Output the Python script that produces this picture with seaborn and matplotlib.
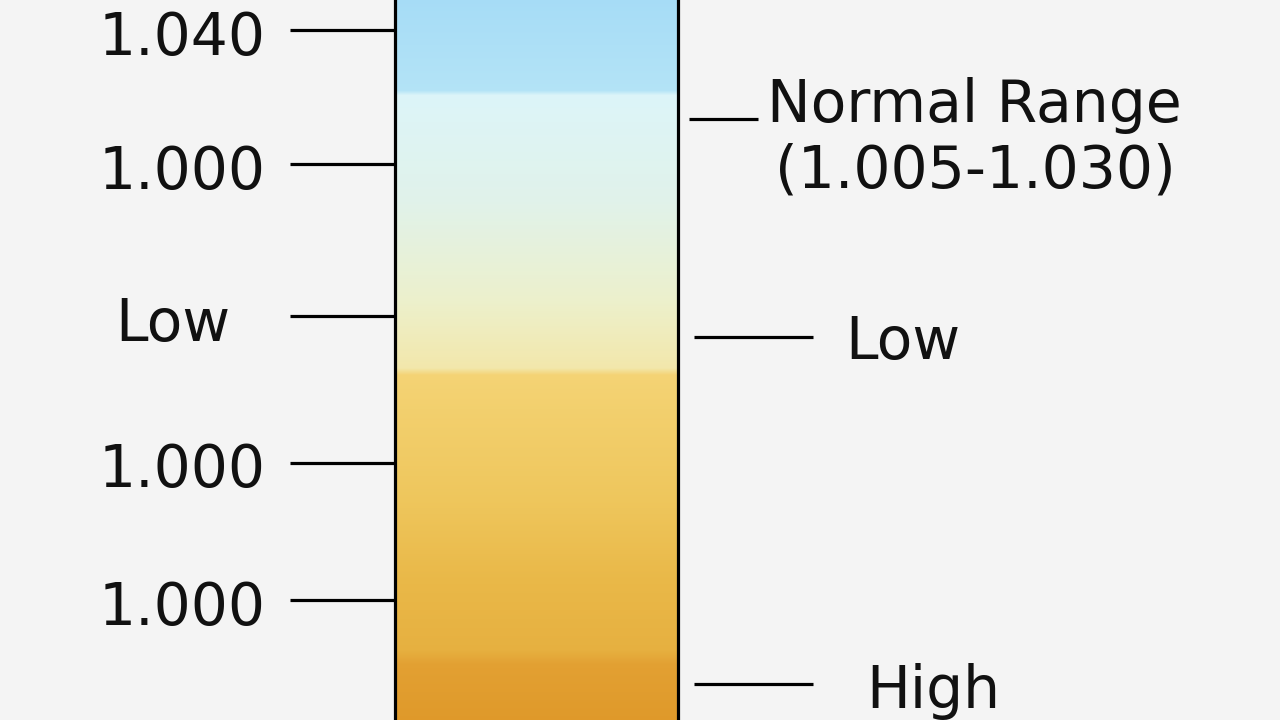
import numpy as np
import matplotlib
matplotlib.use("Agg")
import matplotlib.pyplot as plt
from matplotlib.colors import LinearSegmentedColormap
import seaborn as sns

sns.set_theme(style="white")
plt.rcParams['font.family'] = ['DejaVu Sans']

# scale labels on the left of the bar and the level (pixel row) of each
left_labels = ['1.040', '1.000', 'Low', '1.000', '1.000']
left_rows = [30, 164, 316, 463, 600]

# notes on the right
right_labels = ['Normal Range\n(1.005-1.030)', 'Low', 'High']
right_rows = [119, 337, 684]

# colour stops down the bar (row, colour)
stop_rows = [0, 90, 95, 200, 300, 368, 375, 500, 580, 650, 665, 720]
stop_colors = ['#a6dcf6', '#b3e3f6', '#dcf4f8', '#e0f2ea', '#ecf0cc', '#f2e7ab',
               '#f4d374', '#eec65c', '#e9b848', '#e6b040', '#e2a032', '#df992a']

bg = '#f4f4f4'
fig = plt.figure(figsize=(12.8, 7.2), dpi=100, facecolor=bg)

# gradient bar drawn as a one column heatmap
bar_ax = fig.add_axes([395 / 1280, 0, (678 - 395) / 1280, 1])
cmap = LinearSegmentedColormap.from_list(
    'urine', list(zip(np.array(stop_rows) / 720, stop_colors)), N=720)
rows = np.arange(720).reshape(-1, 1)
sns.heatmap(rows, ax=bar_ax, cmap=cmap, vmin=0, vmax=719, cbar=False,
            xticklabels=False, yticklabels=False, rasterized=True)
for side in ['left', 'right']:
    bar_ax.spines[side].set_visible(True)
    bar_ax.spines[side].set_color('black')
    bar_ax.spines[side].set_linewidth(2.3)
for side in ['top', 'bottom']:
    bar_ax.spines[side].set_visible(False)

# overlay in pixel units for labels and tick lines
ax = fig.add_axes([0, 0, 1, 1], facecolor='none')
ax.set_xlim(0, 1280)
ax.set_ylim(720, 0)
ax.axis('off')

fs = 42
left_x = [99, 99, 115, 99, 99]
ax.hlines(left_rows, 290, 394, color='black', lw=2.3)
for lab, r, x in zip(left_labels, left_rows, left_x):
    ax.text(x, r + 8, lab, fontsize=fs, ha='left', va='center', color='#111111')

ax.hlines(right_rows[0], 689, 758, color='black', lw=2.3)
ax.hlines(right_rows[1:], 694, 813, color='black', lw=2.3)
ax.text(767, 105, 'Normal Range', fontsize=fs, ha='left', va='center', color='#111111')
ax.text(775, 171, '(1.005-1.030)', fontsize=fs, ha='left', va='center', color='#111111')
ax.text(845, 343, right_labels[1], fontsize=fs, ha='left', va='center', color='#111111')
ax.text(866, 691, right_labels[2], fontsize=fs, ha='left', va='center', color='#111111')

fig.savefig('out.png', dpi=100, facecolor=bg)
